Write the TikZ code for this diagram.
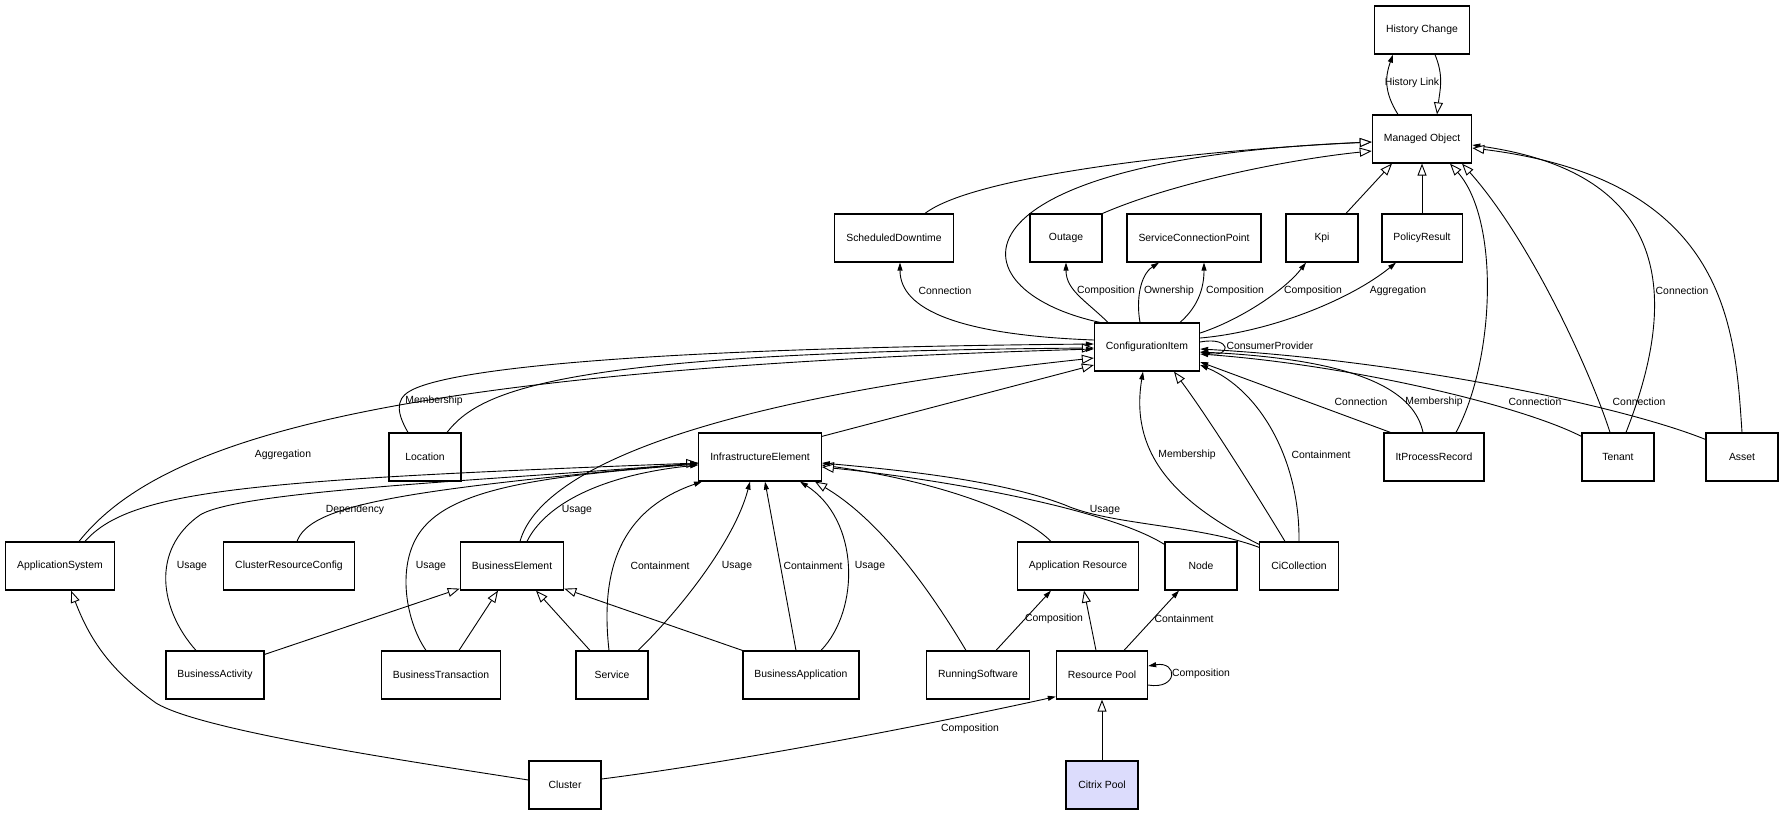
\documentclass[tikz,border=0pt]{standalone}
\usepackage{fontspec}
\setmainfont{Liberation Sans}
\usetikzlibrary{arrows.meta}
\definecolor{poolfill}{HTML}{DCDCFC}

\begin{document}
\begin{tikzpicture}[
x=1pt, y=-1pt,
every node/.style={font=\fontsize{10.4}{12}\selectfont},
box/.style={draw, line width=1.2pt, fill=white, minimum width=72pt, minimum height=48pt, inner xsep=11.5pt},
assoc/.style={line width=0.9pt, -{Triangle[length=8pt,width=5pt]}},
gen/.style={line width=0.9pt, -{Triangle[length=12pt,width=9pt,fill=white]}},
lbl/.style={inner sep=1pt}
]
\useasboundingbox (0,0) rectangle (1783,815);

\node (hc)[box] at (1422,30) {History Change};
\node (mo)[box] at (1422,139) {Managed Object};
\node (sd)[box] at (894,238) {ScheduledDowntime};
\node (outage)[box] at (1066,238) {Outage};
\node (scp)[box] at (1194,238) {ServiceConnectionPoint};
\node (kpi)[box] at (1322,238) {Kpi};
\node (pr)[box] at (1422,238) {PolicyResult};
\node (ci)[box] at (1147,347) {ConfigurationItem};
\node (loc)[box] at (425,457) {Location};
\node (ie)[box] at (760,457) {InfrastructureElement};
\node (ipr)[box] at (1434,457) {ItProcessRecord};
\node (tenant)[box] at (1618,457) {Tenant};
\node (asset)[box] at (1742,457) {Asset};
\node (appsys)[box] at (60,566) {ApplicationSystem};
\node (crc)[box] at (289,566) {ClusterResourceConfig};
\node (be)[box] at (512,566) {BusinessElement};
\node (ar)[box] at (1078,566) {Application Resource};
\node (nd)[box] at (1201,566) {Node};
\node (cic)[box] at (1299,566) {CiCollection};
\node (bact)[box] at (215,675) {BusinessActivity};
\node (btx)[box] at (441,675) {BusinessTransaction};
\node (svc)[box] at (612,675) {Service};
\node (bapp)[box] at (801,675) {BusinessApplication};
\node (rs)[box] at (978,675) {RunningSoftware};
\node (rp)[box] at (1102,675) {Resource Pool};
\node (cluster)[box] at (565,785) {Cluster};
\node (citrix)[box, fill=poolfill] at (1102,785) {Citrix Pool};

\draw[assoc] ([xshift=-24pt]mo.north) .. controls +(-14,-22) and +(-8,22) .. ([xshift=-29pt]hc.south) node[lbl] at (1412,83) {History Link};
\draw[gen] ([xshift=13pt]hc.south) .. controls +(9,22) and +(3,-25) .. ([xshift=15pt]mo.north);

\draw[gen] ([xshift=31pt]sd.north) .. controls (975,175) and (1200,150) .. ([yshift=-3pt]mo.west);
\draw[gen] ([xshift=-47pt]ci.north) .. controls (950,290) and (940,160) .. ([yshift=-3pt]mo.west);
\draw[gen] (outage.north east) .. controls (1180,180) and (1300,158) .. ([yshift=-12pt]mo.west);
\draw[gen] ([xshift=24pt]kpi.north) -- ([xshift=-30pt]mo.south);
\draw[gen] (pr.north) -- (mo.south);
\draw[gen] ([xshift=22pt]ipr.north) .. controls (1495,360) and (1500,220) .. ([xshift=28pt]mo.south);
\draw[gen] ([xshift=-8pt]tenant.north) .. controls (1590,370) and (1530,240) .. ([xshift=40pt]mo.south);
\draw[assoc] ([xshift=8pt]tenant.north) .. controls (1670,320) and (1690,175) .. ([yshift=-6pt]mo.east) node[lbl] at (1682,291) {Connection};
\draw[gen] (asset.north) .. controls (1735,330) and (1730,180) .. ([yshift=-9pt]mo.east);

\draw[assoc] ([yshift=7pt]ci.west) .. controls (960,335) and (900,310) .. ([xshift=6pt]sd.south) node[lbl] at (945,291) {Connection};
\draw[assoc] ([xshift=-39pt]ci.north) .. controls (1085,300) and (1066,290) .. (outage.south) node[lbl] at (1106,291) {Composition};
\draw[assoc] ([xshift=-7pt]ci.north) .. controls (1136,300) and (1140,275) .. ([xshift=-35pt]scp.south) node[lbl] at (1169,291) {Ownership};
\draw[assoc] ([xshift=33pt]ci.north) .. controls (1200,305) and (1204,285) .. ([xshift=10pt]scp.south) node[lbl] at (1235,291) {Composition};
\draw[assoc] ([yshift=14pt]ci.east) .. controls (1240,320) and (1285,290) .. ([xshift=-16pt]kpi.south) node[lbl] at (1313,291) {Composition};
\draw[assoc] ([yshift=9pt]ci.east) .. controls (1270,332) and (1350,300) .. ([xshift=-26pt]pr.south) node[lbl] at (1398,291) {Aggregation};
\draw[assoc] ([yshift=5pt]ci.east) .. controls +(32,-6) and +(32,6) .. ([yshift=-5pt]ci.east) node[lbl] at (1270,346) {ConsumerProvider};

\draw[assoc] ([xshift=-17pt]loc.north) .. controls (398,415) and (394,400) .. (410,391) .. controls (450,368) and (650,348) .. ([yshift=3pt]ci.west) node[lbl] at (434,401) {Membership};
\draw[gen] ([xshift=22pt]loc.north) .. controls (480,390) and (560,352) .. ([yshift=-1pt]ci.west);
\draw[assoc] ([xshift=19pt]appsys.north) .. controls (160,440) and (380,370) .. ([yshift=-2pt]ci.west) node[lbl] at (283,455) {Aggregation};
\draw[gen] ([xshift=8pt]be.north) .. controls (540,470) and (700,400) .. ([yshift=-11pt]ci.west);
\draw[gen] ([yshift=-4pt]ie.north east) -- ([yshift=-18pt]ci.west);

\draw[assoc] ([yshift=-3pt]cic.north west) .. controls (1170,500) and (1130,450) .. ([xshift=-4pt]ci.south) node[lbl] at (1187,455) {Membership};
\draw[gen] ([xshift=-14pt]cic.north) .. controls (1260,500) and (1210,420) .. ([xshift=27pt]ci.south);
\draw[assoc] (cic.north) .. controls (1300,460) and (1260,390) .. ([yshift=-18pt]ci.east) node[lbl] at (1321,455) {Containment};
\draw[assoc] ([xshift=7pt]ipr.north west) -- ([yshift=-15pt]ci.east) node[lbl] at (1361,402) {Connection};
\draw[assoc] ([xshift=-11pt]ipr.north) .. controls (1415,395) and (1370,360) .. ([yshift=-5pt]ci.east) node[lbl] at (1434,402) {Membership};
\draw[assoc] ([yshift=-4pt]tenant.north west) .. controls (1520,405) and (1350,365) .. ([yshift=-7pt]ci.east) node[lbl] at (1535,402) {Connection};
\draw[assoc] ([yshift=-7pt]asset.north west) .. controls (1620,405) and (1400,360) .. ([yshift=-2pt]ci.east) node[lbl] at (1639,402) {Connection};

\draw[gen] ([xshift=25pt]appsys.north) .. controls (130,490) and (250,480) .. ([yshift=-6pt]ie.west);
\draw[assoc] ([xshift=8pt]crc.north) .. controls (310,505) and (400,490) .. ([yshift=-6pt]ie.west) node[lbl] at (355,510) {Dependency};
\draw[assoc] ([xshift=-19pt]bact.north) .. controls (160,610) and (150,550) .. (200,515) .. controls (240,490) and (500,480) .. ([yshift=-6pt]ie.west) node[lbl] at (192,566) {Usage};
\draw[assoc] ([xshift=-15pt]btx.north) .. controls (405,620) and (395,560) .. (424,527) .. controls (460,485) and (560,475) .. ([yshift=-7pt]ie.west) node[lbl] at (431,566) {Usage};
\draw[assoc] ([xshift=15pt]be.north) .. controls (545,505) and (600,475) .. ([yshift=-8pt]ie.west) node[lbl] at (577,510) {Usage};
\draw[assoc] ([xshift=-3pt]svc.north) .. controls (600,570) and (620,510) .. ([xshift=-58pt]ie.south) node[lbl] at (660,566) {Containment};
\draw[assoc] ([xshift=26pt]svc.north) .. controls (680,610) and (735,540) .. ([xshift=-10pt]ie.south) node[lbl] at (737,566) {Usage};
\draw[assoc] ([xshift=-5pt]bapp.north) -- ([xshift=5pt]ie.south) node[lbl] at (813,566) {Containment};
\draw[assoc] ([xshift=20pt]bapp.north) .. controls (860,610) and (860,520) .. ([xshift=40pt]ie.south) node[lbl] at (870,566) {Usage};
\draw[gen] ([xshift=-12pt]rs.north) .. controls (930,590) and (880,520) .. ([xshift=55pt]ie.south);
\draw[gen] ([xshift=-27pt]ar.north) .. controls (1020,510) and (930,480) .. ([yshift=-8pt]ie.east);
\draw[gen] ([yshift=-3pt]nd.north west) .. controls (1110,510) and (950,480) .. ([yshift=-10pt]ie.east);
\draw[assoc] ([yshift=-6pt]cic.north west) .. controls (1200,525) and (1110,525) .. (1065,505) .. controls (1000,480) and (900,470) .. ([yshift=-6pt]ie.east) node[lbl] at (1105,510) {Usage};

\draw[gen] ([yshift=-4pt]bact.north east) -- ([yshift=2pt]be.south west);
\draw[gen] ([xshift=18pt]btx.north) -- ([xshift=-14pt]be.south);
\draw[gen] ([xshift=-22pt]svc.north) -- ([xshift=24pt]be.south);
\draw[gen] (bapp.north west) -- ([yshift=2pt]be.south east);

\draw[gen] ([yshift=5pt]cluster.west) .. controls (400,760) and (200,730) .. (156,703) .. controls (110,670) and (90,640) .. ([xshift=11pt]appsys.south);
\draw[assoc] ([yshift=6pt]cluster.east) .. controls (750,760) and (950,720) .. ([yshift=3pt]rp.south west) node[lbl] at (970,729) {Composition};
\draw[assoc] ([xshift=18pt]rs.north) -- ([xshift=-27pt]ar.south) node[lbl] at (1054,619) {Composition};
\draw[gen] ([xshift=-6pt]rp.north) -- ([xshift=6pt]ar.south);
\draw[assoc] ([xshift=22pt]rp.north) -- ([xshift=-22pt]nd.south) node[lbl] at (1184,619) {Containment};
\draw[assoc] ([yshift=-10pt]rp.east) .. controls +(30,5) and +(30,-5) .. ([yshift=9pt]rp.east) node[lbl] at (1201,674) {Composition};
\draw[gen] (citrix.north) -- (rp.south);
\end{tikzpicture}
\end{document}
